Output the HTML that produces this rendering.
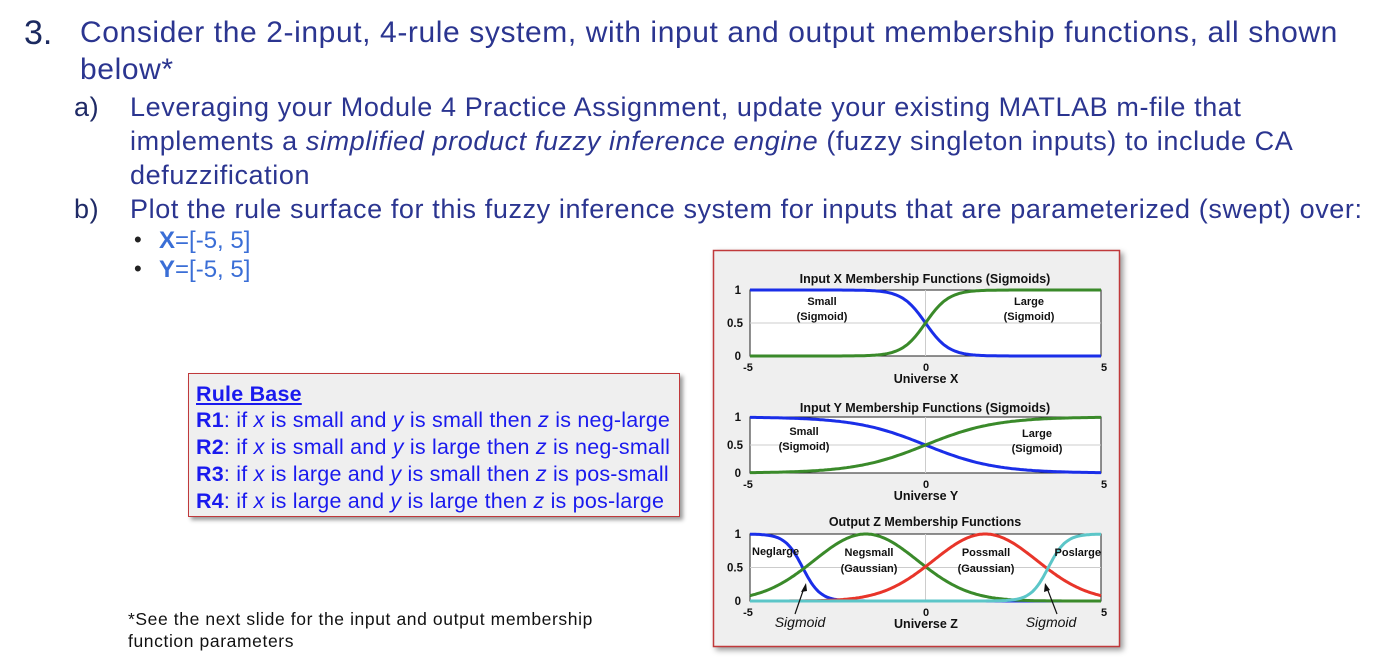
<!DOCTYPE html>
<html><head><meta charset="utf-8"><style>
body{margin:0;width:1398px;height:662px;background:#fff;position:relative;overflow:hidden;font-family:"Liberation Sans",sans-serif}
.t{position:absolute;white-space:nowrap;color:#2b3590}
.rb{position:absolute;left:188px;top:373px;width:492px;height:144px;border:1.5px solid #c0393b;background:#efefef;box-shadow:3px 3px 4px #999;box-sizing:border-box}
.rb div{position:absolute;left:7px;font-size:21.5px;letter-spacing:0.2px;color:#1a1aee;white-space:nowrap}
.m{font-size:30px;letter-spacing:0.6px}
.s{font-size:27px;letter-spacing:0.6px}
</style></head><body>
<div class="t" style="left:24px;top:14px;font-size:34px;color:#1c2a60">3.</div>
<div class="t m" style="left:80px;top:16px">Consider the 2-input, 4-rule system, with input and output membership functions, all shown</div>
<div class="t m" style="left:80px;top:53px">below*</div>
<div class="t s" style="left:74px;top:92px;color:#1f2a66">a)</div>
<div class="t s" style="left:130px;top:92px">Leveraging your Module 4 Practice Assignment, update your existing MATLAB m-file that</div>
<div class="t s" style="left:130px;top:126px">implements a <i>simplified product fuzzy inference engine</i> (fuzzy singleton inputs) to include CA</div>
<div class="t s" style="left:130px;top:160px">defuzzification</div>
<div class="t s" style="left:74px;top:194px;color:#1f2a66">b)</div>
<div class="t s" style="left:130px;top:194px">Plot the rule surface for this fuzzy inference system for inputs that are parameterized (swept) over:</div>
<div class="t" style="left:134px;top:227px;font-size:22px;color:#222">•</div>
<div class="t" style="left:134px;top:256px;font-size:22px;color:#222">•</div>
<div class="t" style="left:159px;top:227px;font-size:24px;color:#3a6ed6"><b>X</b>=[-5, 5]</div>
<div class="t" style="left:159px;top:256px;font-size:24px;color:#3a6ed6"><b>Y</b>=[-5, 5]</div>
<div class="rb">
<div style="top:8px"><b><u>Rule Base</u></b></div>
<div style="top:34px"><b>R1</b>: if <i>x</i> is small and <i>y</i> is small then <i>z</i> is neg-large</div>
<div style="top:61px"><b>R2</b>: if <i>x</i> is small and <i>y</i> is large then <i>z</i> is neg-small</div>
<div style="top:88px"><b>R3</b>: if <i>x</i> is large and <i>y</i> is small then <i>z</i> is pos-small</div>
<div style="top:115px"><b>R4</b>: if <i>x</i> is large and <i>y</i> is large then <i>z</i> is pos-large</div>
</div>
<div class="t" style="left:128px;top:609px;font-size:17.5px;letter-spacing:0.6px;color:#111">*See the next slide for the input and output membership</div>
<div class="t" style="left:128px;top:631px;font-size:17.5px;letter-spacing:0.6px;color:#111">function parameters</div>
<svg id="s" width="1398" height="662" style="position:absolute;left:0;top:0" font-family="Liberation Sans,sans-serif">
<rect x="713.5" y="250.5" width="406" height="396" fill="#efefef" stroke="#c0393b" stroke-width="1.5" style="filter:drop-shadow(3px 3px 3px #999)"/>
</svg>
<script>
var s=document.getElementById('s'),h='';
function T(x,y,t,sz,anc,st){h+='<text x="'+x+'" y="'+y+'" font-size="'+sz+'" font-weight="'+(st?'normal':'bold')+'" '+(st?'font-style="italic"':'')+' text-anchor="'+(anc||'middle')+'" fill="#111">'+t+'</text>';}
var X0=750,X1=1101;
function plot(y1,y0,title,xl,ty,curves){
 var ym=(y1+y0)/2;
 h+='<rect x="'+X0+'" y="'+y1+'" width="'+(X1-X0)+'" height="'+(y0-y1)+'" fill="#fff" stroke="#222" stroke-width="1"/>';
 h+='<line x1="'+X0+'" x2="'+X1+'" y1="'+ym+'" y2="'+ym+'" stroke="#ccc"/><line x1="925.5" x2="925.5" y1="'+y1+'" y2="'+y0+'" stroke="#ccc"/>';
 curves.forEach(function(c){var d='';for(var i=0;i<=200;i++){var x=-5+i/20,v=c[0](x);d+=(i?'L':'M')+(X0+(x+5)/10*(X1-X0)).toFixed(1)+' '+(y0-v*(y0-y1)).toFixed(1);}
  h+='<path d="'+d+'" fill="none" stroke="'+c[1]+'" stroke-width="3"/>';});
 T(925,ty,title,12.5);
 T(741,y1+4,'1',11.5,'end');T(743,ym+4,'0.5',11.5,'end');T(741,y0+4,'0',11.5,'end');
 T(748,y0+15,'-5',11);T(926,y0+15,'0',11);T(1104,y0+15,'5',11);
 T(926,y0+27,xl,12.5);
}
function sg(a,c){return function(x){return 1/(1+Math.exp(-a*(x-c)));}}
function gs(c,sd){return function(x){return Math.exp(-(x-c)*(x-c)/(2*sd*sd));}}
plot(290,356,'Input X Membership Functions (Sigmoids)','Universe X',283,[[sg(-3,0),'#1a2ee8'],[sg(3,0),'#3a8a2a']]);
plot(417,473,'Input Y Membership Functions (Sigmoids)','Universe Y',412,[[sg(-1,0),'#1a2ee8'],[sg(1,0),'#3a8a2a']]);
plot(534,601,'Output Z Membership Functions','Universe Z',526,[[sg(-4,-3.5),'#1a2ee8'],[gs(-1.7,1.47),'#3a8a2a'],[gs(1.7,1.47),'#e8352a'],[sg(4,3.5),'#5cc6c8']]);
T(822,305,'Small',11);T(822,320,'(Sigmoid)',11);T(1029,305,'Large',11);T(1029,320,'(Sigmoid)',11);
T(804,435,'Small',11);T(804,450,'(Sigmoid)',11);T(1037,437,'Large',11);T(1037,452,'(Sigmoid)',11);
T(752,555,'Neglarge',11,'start');T(869,556,'Negsmall',11);T(869,572,'(Gaussian)',11);T(986,556,'Possmall',11);T(986,572,'(Gaussian)',11);T(1101,556,'Poslarge',11,'end');
T(800,627,'Sigmoid',14,'middle',1);T(1051,627,'Sigmoid',14,'middle',1);
h+='<line x1="795" y1="614" x2="804" y2="588" stroke="#111" stroke-width="1.2"/><path d="M806 583 L801 592 L807 591Z" fill="#111"/>';
h+='<line x1="1057" y1="614" x2="1047" y2="588" stroke="#111" stroke-width="1.2"/><path d="M1045 583 L1044 592 L1050 590Z" fill="#111"/>';
s.insertAdjacentHTML('beforeend',h);
</script>
</body></html>
